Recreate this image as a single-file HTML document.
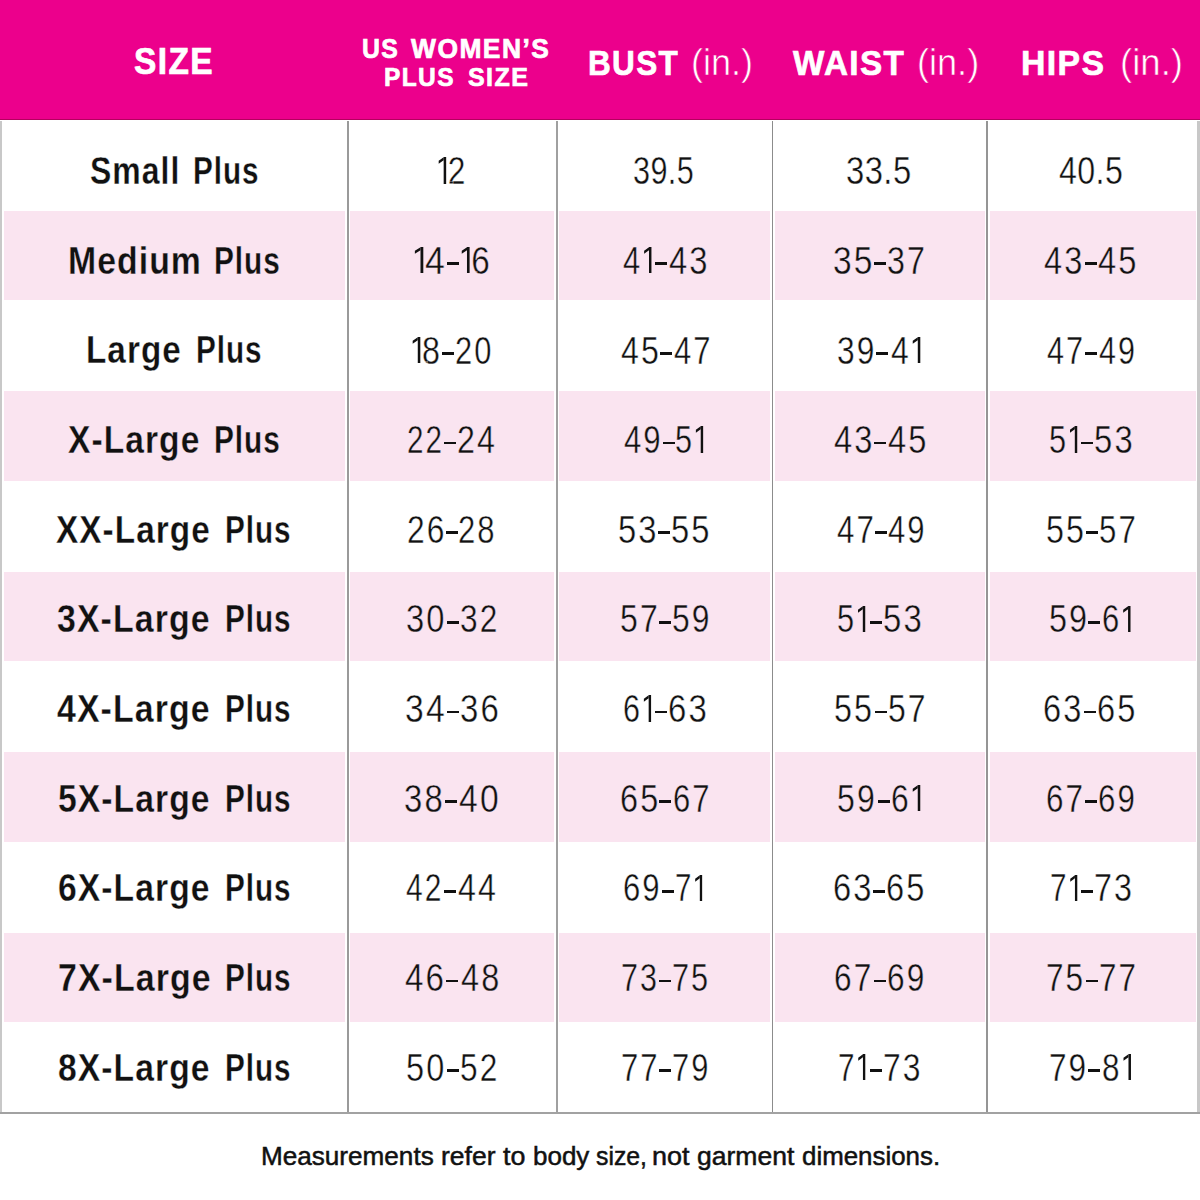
<!DOCTYPE html><html><head><meta charset="utf-8"><style>
html,body{margin:0;padding:0;}
body{width:1200px;height:1200px;position:relative;overflow:hidden;background:#fff;font-family:"Liberation Sans",sans-serif;}
.a{position:absolute;}
.t{position:absolute;white-space:nowrap;line-height:1;transform-origin:0 0;}
.hd{left:0;top:0;width:1200px;height:119px;background:#ec008c;}
.hl{left:0;top:119px;width:1200px;height:1px;background:#b4005e;}
.pk{left:4px;width:1192px;height:89.4px;background:#fae4f0;}
.vl{top:121px;height:991px;background:#fff;}
.vl i{position:absolute;top:0;bottom:0;background:#999;}
.br{background:#111;}
.one{display:inline-block;position:relative;color:transparent;width:0.34em;}
.one::before{content:"";position:absolute;right:0.04em;top:0.1347em;width:0.08em;height:0.696em;background:#111;}
.one::after{content:"";position:absolute;right:0.11em;top:0.1347em;width:0.17em;height:0.075em;background:#111;transform:skewY(-30deg);transform-origin:100% 0;}
.bl{left:0;top:1112px;width:1200px;height:2px;background:#a2a2a2;}
</style></head><body>
<div class="a hd"></div><div class="a hl"></div>
<div class="a pk" style="top:210.80px"></div>
<div class="a pk" style="top:391.30px"></div>
<div class="a pk" style="top:571.80px"></div>
<div class="a pk" style="top:752.30px"></div>
<div class="a pk" style="top:932.80px"></div>
<div class="a" style="left:0;top:121px;width:2px;height:991px;background:#c8c8c8"></div>
<div class="a vl" style="left:344.80px;width:5.20px"><i style="left:2.20px;width:1.70px;background:#9a9a9a"></i></div>
<div class="a vl" style="left:553.50px;width:5.50px"><i style="left:2.00px;width:2.00px;background:#a0a0a0"></i></div>
<div class="a vl" style="left:769.50px;width:5.50px"><i style="left:2.00px;width:1.70px;background:#8c8c8c"></i></div>
<div class="a vl" style="left:984.50px;width:5.50px"><i style="left:1.60px;width:2.00px;background:#959595"></i></div>
<div class="a vl" style="left:1195.70px;width:4.30px"><i style="left:1.80px;width:2.50px;background:#c8c8c8"></i></div>
<div class="a bl"></div>
<div class="a br" style="left:446.76px;top:262.45px;width:12.00px;height:2.60px"></div>
<div class="a br" style="left:655.45px;top:262.45px;width:12.00px;height:2.60px"></div>
<div class="a br" style="left:874.43px;top:262.45px;width:12.00px;height:2.60px"></div>
<div class="a br" style="left:1084.65px;top:262.45px;width:12.00px;height:2.60px"></div>
<div class="a br" style="left:442.10px;top:352.10px;width:12.00px;height:2.60px"></div>
<div class="a br" style="left:660.35px;top:352.10px;width:12.00px;height:2.60px"></div>
<div class="a br" style="left:876.29px;top:352.10px;width:12.00px;height:2.60px"></div>
<div class="a br" style="left:1085.39px;top:352.10px;width:12.00px;height:2.60px"></div>
<div class="a br" style="left:443.73px;top:441.75px;width:12.00px;height:2.60px"></div>
<div class="a br" style="left:662.78px;top:441.75px;width:12.00px;height:2.60px"></div>
<div class="a br" style="left:873.75px;top:441.75px;width:12.00px;height:2.60px"></div>
<div class="a br" style="left:1081.40px;top:441.75px;width:12.00px;height:2.60px"></div>
<div class="a br" style="left:445.56px;top:531.40px;width:12.00px;height:2.60px"></div>
<div class="a br" style="left:658.05px;top:531.40px;width:12.00px;height:2.60px"></div>
<div class="a br" style="left:874.64px;top:531.40px;width:12.00px;height:2.60px"></div>
<div class="a br" style="left:1086.36px;top:531.40px;width:12.00px;height:2.60px"></div>
<div class="a br" style="left:446.70px;top:621.05px;width:12.00px;height:2.60px"></div>
<div class="a br" style="left:658.65px;top:621.05px;width:12.00px;height:2.60px"></div>
<div class="a br" style="left:869.90px;top:621.05px;width:12.00px;height:2.60px"></div>
<div class="a br" style="left:1088.24px;top:621.05px;width:12.00px;height:2.60px"></div>
<div class="a br" style="left:446.79px;top:710.70px;width:12.00px;height:2.60px"></div>
<div class="a br" style="left:655.36px;top:710.70px;width:12.00px;height:2.60px"></div>
<div class="a br" style="left:875.02px;top:710.70px;width:12.00px;height:2.60px"></div>
<div class="a br" style="left:1084.20px;top:710.70px;width:12.00px;height:2.60px"></div>
<div class="a br" style="left:444.73px;top:800.35px;width:12.00px;height:2.60px"></div>
<div class="a br" style="left:659.46px;top:800.35px;width:12.00px;height:2.60px"></div>
<div class="a br" style="left:877.51px;top:800.35px;width:12.00px;height:2.60px"></div>
<div class="a br" style="left:1085.40px;top:800.35px;width:12.00px;height:2.60px"></div>
<div class="a br" style="left:444.16px;top:890.00px;width:12.00px;height:2.60px"></div>
<div class="a br" style="left:662.30px;top:890.00px;width:12.00px;height:2.60px"></div>
<div class="a br" style="left:873.30px;top:890.00px;width:12.00px;height:2.60px"></div>
<div class="a br" style="left:1081.08px;top:890.00px;width:12.00px;height:2.60px"></div>
<div class="a br" style="left:446.30px;top:979.65px;width:12.00px;height:2.60px"></div>
<div class="a br" style="left:658.65px;top:979.65px;width:12.00px;height:2.60px"></div>
<div class="a br" style="left:873.90px;top:979.65px;width:12.00px;height:2.60px"></div>
<div class="a br" style="left:1085.93px;top:979.65px;width:12.00px;height:2.60px"></div>
<div class="a br" style="left:446.75px;top:1069.30px;width:12.00px;height:2.60px"></div>
<div class="a br" style="left:659.10px;top:1069.30px;width:12.00px;height:2.60px"></div>
<div class="a br" style="left:869.92px;top:1069.30px;width:12.00px;height:2.60px"></div>
<div class="a br" style="left:1088.43px;top:1069.30px;width:12.00px;height:2.60px"></div>
<div class="t" id="t0" style="left:134.07px;top:44.46px;font-size:36.05px;font-weight:bold;color:#ffffff;transform:scaleX(0.9277);letter-spacing:1.5px;-webkit-text-stroke:0.7px #fff">SIZE</div>
<div class="t" id="t1" style="left:362.08px;top:35.96px;font-size:27.03px;font-weight:bold;color:#ffffff;transform:scaleX(0.9193);letter-spacing:1.5px;-webkit-text-stroke:0.7px #fff">US</div>
<div class="t" id="t2" style="left:411.49px;top:35.96px;font-size:27.03px;font-weight:bold;color:#ffffff;transform:scaleX(0.9774);letter-spacing:1.5px;-webkit-text-stroke:0.7px #fff">WOMEN’S</div>
<div class="t" id="t3" style="left:384.07px;top:63.66px;font-size:26.31px;font-weight:bold;color:#ffffff;transform:scaleX(0.9316);letter-spacing:1.5px;-webkit-text-stroke:0.7px #fff">PLUS</div>
<div class="t" id="t4" style="left:467.52px;top:63.66px;font-size:26.31px;font-weight:bold;color:#ffffff;transform:scaleX(0.9518);letter-spacing:1.5px;-webkit-text-stroke:0.7px #fff">SIZE</div>
<div class="t" id="t5" style="left:588.26px;top:45.66px;font-size:35.90px;font-weight:bold;color:#ffffff;transform:scaleX(0.8780);letter-spacing:1.5px;-webkit-text-stroke:0.7px #fff">BUST</div>
<div class="t er" id="t6" style="left:690.77px;top:43.57px;font-size:37.17px;font-weight:normal;color:#ffffff;transform:scaleX(0.9705);-webkit-text-stroke:0.60px #ec008c">(in.)</div>
<div class="t" id="t7" style="left:793.00px;top:45.66px;font-size:35.90px;font-weight:bold;color:#ffffff;transform:scaleX(0.9267);letter-spacing:1.5px;-webkit-text-stroke:0.7px #fff">WAIST</div>
<div class="t er" id="t8" style="left:917.09px;top:43.57px;font-size:37.17px;font-weight:normal;color:#ffffff;transform:scaleX(0.9712);-webkit-text-stroke:0.60px #ec008c">(in.)</div>
<div class="t" id="t9" style="left:1021.35px;top:45.66px;font-size:35.90px;font-weight:bold;color:#ffffff;transform:scaleX(0.9414);letter-spacing:1.5px;-webkit-text-stroke:0.7px #fff">HIPS</div>
<div class="t er" id="t10" style="left:1120.04px;top:43.57px;font-size:37.17px;font-weight:normal;color:#ffffff;transform:scaleX(0.9854);-webkit-text-stroke:0.60px #ec008c">(in.)</div>
<div class="t er" id="t11" style="left:90.19px;top:153.15px;font-size:37.94px;font-weight:bold;color:#111111;transform:scaleX(0.8431);letter-spacing:1.2px;-webkit-text-stroke:0.30px #ffffff">Small</div>
<div class="t er" id="t12" style="left:193.08px;top:153.15px;font-size:37.94px;font-weight:bold;color:#111111;transform:scaleX(0.7823);letter-spacing:1.2px;-webkit-text-stroke:0.30px #ffffff">Plus</div>
<div class="t er" id="t13" style="left:437.33px;top:152.21px;font-size:38.08px;font-weight:normal;color:#111111;transform:scaleX(0.8333);letter-spacing:2.5px;-webkit-text-stroke:0.40px #ffffff"><span class="one">1</span>2</div>
<div class="t er" id="t14" style="left:633.28px;top:152.21px;font-size:38.08px;font-weight:normal;color:#111111;transform:scaleX(0.8028);letter-spacing:0.5px;-webkit-text-stroke:0.40px #ffffff">39.5</div>
<div class="t er" id="t15" style="left:846.28px;top:152.21px;font-size:38.08px;font-weight:normal;color:#111111;transform:scaleX(0.8613);letter-spacing:0.5px;-webkit-text-stroke:0.40px #ffffff">33.5</div>
<div class="t er" id="t16" style="left:1059.25px;top:152.21px;font-size:38.08px;font-weight:normal;color:#111111;transform:scaleX(0.8446);letter-spacing:0.5px;-webkit-text-stroke:0.40px #ffffff">40.5</div>
<div class="t er" id="t17" style="left:67.78px;top:242.81px;font-size:37.94px;font-weight:bold;color:#111111;transform:scaleX(0.8903);letter-spacing:1.2px;-webkit-text-stroke:0.30px #fae4f0">Medium</div>
<div class="t er" id="t18" style="left:214.27px;top:242.81px;font-size:37.94px;font-weight:bold;color:#111111;transform:scaleX(0.7850);letter-spacing:1.2px;-webkit-text-stroke:0.30px #fae4f0">Plus</div>
<div class="t er" id="t19" style="left:413.12px;top:241.86px;font-size:38.08px;font-weight:normal;color:#111111;transform:scaleX(0.9369);letter-spacing:2.5px;-webkit-text-stroke:0.40px #fae4f0"><span class="one">1</span>4</div>
<div class="t er" id="t20" style="left:460.07px;top:241.86px;font-size:38.08px;font-weight:normal;color:#111111;transform:scaleX(0.8727);letter-spacing:2.5px;-webkit-text-stroke:0.40px #fae4f0"><span class="one">1</span>6</div>
<div class="t er" id="t21" style="left:622.62px;top:241.86px;font-size:38.08px;font-weight:normal;color:#111111;transform:scaleX(0.8126);letter-spacing:2.5px;-webkit-text-stroke:0.40px #fae4f0">4<span class="one">1</span></div>
<div class="t er" id="t22" style="left:669.47px;top:241.86px;font-size:38.08px;font-weight:normal;color:#111111;transform:scaleX(0.8589);letter-spacing:2.5px;-webkit-text-stroke:0.40px #fae4f0">43</div>
<div class="t er" id="t23" style="left:833.17px;top:241.86px;font-size:38.08px;font-weight:normal;color:#111111;transform:scaleX(0.8813);letter-spacing:2.5px;-webkit-text-stroke:0.40px #fae4f0">35</div>
<div class="t er" id="t24" style="left:887.38px;top:241.86px;font-size:38.08px;font-weight:normal;color:#111111;transform:scaleX(0.8460);letter-spacing:2.5px;-webkit-text-stroke:0.40px #fae4f0">37</div>
<div class="t er" id="t25" style="left:1044.23px;top:241.86px;font-size:38.08px;font-weight:normal;color:#111111;transform:scaleX(0.8546);letter-spacing:2.5px;-webkit-text-stroke:0.40px #fae4f0">43</div>
<div class="t er" id="t26" style="left:1098.45px;top:241.86px;font-size:38.08px;font-weight:normal;color:#111111;transform:scaleX(0.8574);letter-spacing:2.5px;-webkit-text-stroke:0.40px #fae4f0">45</div>
<div class="t er" id="t27" style="left:86.35px;top:332.46px;font-size:37.94px;font-weight:bold;color:#111111;transform:scaleX(0.8770);letter-spacing:1.2px;-webkit-text-stroke:0.30px #ffffff">Large</div>
<div class="t er" id="t28" style="left:196.08px;top:332.46px;font-size:37.94px;font-weight:bold;color:#111111;transform:scaleX(0.7823);letter-spacing:1.2px;-webkit-text-stroke:0.30px #ffffff">Plus</div>
<div class="t er" id="t29" style="left:411.31px;top:331.51px;font-size:38.08px;font-weight:normal;color:#111111;transform:scaleX(0.8472);letter-spacing:2.5px;-webkit-text-stroke:0.40px #ffffff"><span class="one">1</span>8</div>
<div class="t er" id="t30" style="left:454.87px;top:331.51px;font-size:38.08px;font-weight:normal;color:#111111;transform:scaleX(0.8101);letter-spacing:2.5px;-webkit-text-stroke:0.40px #ffffff">20</div>
<div class="t er" id="t31" style="left:620.74px;top:331.51px;font-size:38.08px;font-weight:normal;color:#111111;transform:scaleX(0.8429);letter-spacing:2.5px;-webkit-text-stroke:0.40px #ffffff">45</div>
<div class="t er" id="t32" style="left:673.87px;top:331.51px;font-size:38.08px;font-weight:normal;color:#111111;transform:scaleX(0.8143);letter-spacing:2.5px;-webkit-text-stroke:0.40px #ffffff">47</div>
<div class="t er" id="t33" style="left:837.33px;top:331.51px;font-size:38.08px;font-weight:normal;color:#111111;transform:scaleX(0.8331);letter-spacing:2.5px;-webkit-text-stroke:0.40px #ffffff">39</div>
<div class="t er" id="t34" style="left:890.54px;top:331.51px;font-size:38.08px;font-weight:normal;color:#111111;transform:scaleX(0.8371);letter-spacing:2.5px;-webkit-text-stroke:0.40px #ffffff">4<span class="one">1</span></div>
<div class="t er" id="t35" style="left:1047.30px;top:331.51px;font-size:38.08px;font-weight:normal;color:#111111;transform:scaleX(0.8045);letter-spacing:2.5px;-webkit-text-stroke:0.40px #ffffff">47</div>
<div class="t er" id="t36" style="left:1099.26px;top:331.51px;font-size:38.08px;font-weight:normal;color:#111111;transform:scaleX(0.8011);letter-spacing:2.5px;-webkit-text-stroke:0.40px #ffffff">49</div>
<div class="t er" id="t37" style="left:67.89px;top:422.10px;font-size:37.94px;font-weight:bold;color:#111111;transform:scaleX(0.8850);letter-spacing:1.2px;-webkit-text-stroke:0.30px #fae4f0">X-Large</div>
<div class="t er" id="t38" style="left:214.27px;top:422.10px;font-size:37.94px;font-weight:bold;color:#111111;transform:scaleX(0.7850);letter-spacing:1.2px;-webkit-text-stroke:0.30px #fae4f0">Plus</div>
<div class="t er" id="t39" style="left:407.45px;top:421.16px;font-size:38.08px;font-weight:normal;color:#111111;transform:scaleX(0.7787);letter-spacing:2.5px;-webkit-text-stroke:0.40px #fae4f0">22</div>
<div class="t er" id="t40" style="left:456.99px;top:421.16px;font-size:38.08px;font-weight:normal;color:#111111;transform:scaleX(0.8462);letter-spacing:2.5px;-webkit-text-stroke:0.40px #fae4f0">24</div>
<div class="t er" id="t41" style="left:624.28px;top:421.16px;font-size:38.08px;font-weight:normal;color:#111111;transform:scaleX(0.8172);letter-spacing:2.5px;-webkit-text-stroke:0.40px #fae4f0">49</div>
<div class="t er" id="t42" style="left:675.31px;top:421.16px;font-size:38.08px;font-weight:normal;color:#111111;transform:scaleX(0.8040);letter-spacing:2.5px;-webkit-text-stroke:0.40px #fae4f0">5<span class="one">1</span></div>
<div class="t er" id="t43" style="left:833.71px;top:421.16px;font-size:38.08px;font-weight:normal;color:#111111;transform:scaleX(0.8574);letter-spacing:2.5px;-webkit-text-stroke:0.40px #fae4f0">43</div>
<div class="t er" id="t44" style="left:887.95px;top:421.16px;font-size:38.08px;font-weight:normal;color:#111111;transform:scaleX(0.8574);letter-spacing:2.5px;-webkit-text-stroke:0.40px #fae4f0">45</div>
<div class="t er" id="t45" style="left:1048.96px;top:421.16px;font-size:38.08px;font-weight:normal;color:#111111;transform:scaleX(0.8065);letter-spacing:2.5px;-webkit-text-stroke:0.40px #fae4f0">5<span class="one">1</span></div>
<div class="t er" id="t46" style="left:1094.35px;top:421.16px;font-size:38.08px;font-weight:normal;color:#111111;transform:scaleX(0.8606);letter-spacing:2.5px;-webkit-text-stroke:0.40px #fae4f0">53</div>
<div class="t er" id="t47" style="left:56.12px;top:511.75px;font-size:37.94px;font-weight:bold;color:#111111;transform:scaleX(0.8790);letter-spacing:1.2px;-webkit-text-stroke:0.30px #ffffff">XX-Large</div>
<div class="t er" id="t48" style="left:224.68px;top:511.75px;font-size:37.94px;font-weight:bold;color:#111111;transform:scaleX(0.7823);letter-spacing:1.2px;-webkit-text-stroke:0.30px #ffffff">Plus</div>
<div class="t er" id="t49" style="left:406.92px;top:510.81px;font-size:38.08px;font-weight:normal;color:#111111;transform:scaleX(0.8351);letter-spacing:2.5px;-webkit-text-stroke:0.40px #ffffff">26</div>
<div class="t er" id="t50" style="left:458.22px;top:510.81px;font-size:38.08px;font-weight:normal;color:#111111;transform:scaleX(0.8144);letter-spacing:2.5px;-webkit-text-stroke:0.40px #ffffff">28</div>
<div class="t er" id="t51" style="left:618.27px;top:510.81px;font-size:38.08px;font-weight:normal;color:#111111;transform:scaleX(0.8590);letter-spacing:2.5px;-webkit-text-stroke:0.40px #ffffff">53</div>
<div class="t er" id="t52" style="left:670.51px;top:510.81px;font-size:38.08px;font-weight:normal;color:#111111;transform:scaleX(0.8590);letter-spacing:2.5px;-webkit-text-stroke:0.40px #ffffff">55</div>
<div class="t er" id="t53" style="left:836.78px;top:510.81px;font-size:38.08px;font-weight:normal;color:#111111;transform:scaleX(0.8191);letter-spacing:2.5px;-webkit-text-stroke:0.40px #ffffff">47</div>
<div class="t er" id="t54" style="left:888.47px;top:510.81px;font-size:38.08px;font-weight:normal;color:#111111;transform:scaleX(0.8155);letter-spacing:2.5px;-webkit-text-stroke:0.40px #ffffff">49</div>
<div class="t er" id="t55" style="left:1046.39px;top:510.81px;font-size:38.08px;font-weight:normal;color:#111111;transform:scaleX(0.8463);letter-spacing:2.5px;-webkit-text-stroke:0.40px #ffffff">55</div>
<div class="t er" id="t56" style="left:1099.08px;top:510.81px;font-size:38.08px;font-weight:normal;color:#111111;transform:scaleX(0.8188);letter-spacing:2.5px;-webkit-text-stroke:0.40px #ffffff">57</div>
<div class="t er" id="t57" style="left:57.11px;top:601.40px;font-size:37.94px;font-weight:bold;color:#111111;transform:scaleX(0.8940);letter-spacing:1.2px;-webkit-text-stroke:0.30px #fae4f0">3X-Large</div>
<div class="t er" id="t58" style="left:224.68px;top:601.40px;font-size:37.94px;font-weight:bold;color:#111111;transform:scaleX(0.7823);letter-spacing:1.2px;-webkit-text-stroke:0.30px #fae4f0">Plus</div>
<div class="t er" id="t59" style="left:405.79px;top:600.46px;font-size:38.08px;font-weight:normal;color:#111111;transform:scaleX(0.8588);letter-spacing:2.5px;-webkit-text-stroke:0.40px #fae4f0">30</div>
<div class="t er" id="t60" style="left:459.90px;top:600.46px;font-size:38.08px;font-weight:normal;color:#111111;transform:scaleX(0.8303);letter-spacing:2.5px;-webkit-text-stroke:0.40px #fae4f0">32</div>
<div class="t er" id="t61" style="left:619.91px;top:600.46px;font-size:38.08px;font-weight:normal;color:#111111;transform:scaleX(0.8401);letter-spacing:2.5px;-webkit-text-stroke:0.40px #fae4f0">57</div>
<div class="t er" id="t62" style="left:671.64px;top:600.46px;font-size:38.08px;font-weight:normal;color:#111111;transform:scaleX(0.8354);letter-spacing:2.5px;-webkit-text-stroke:0.40px #fae4f0">59</div>
<div class="t er" id="t63" style="left:837.40px;top:600.46px;font-size:38.08px;font-weight:normal;color:#111111;transform:scaleX(0.8065);letter-spacing:2.5px;-webkit-text-stroke:0.40px #fae4f0">5<span class="one">1</span></div>
<div class="t er" id="t64" style="left:882.77px;top:600.46px;font-size:38.08px;font-weight:normal;color:#111111;transform:scaleX(0.8636);letter-spacing:2.5px;-webkit-text-stroke:0.40px #fae4f0">53</div>
<div class="t er" id="t65" style="left:1048.88px;top:600.46px;font-size:38.08px;font-weight:normal;color:#111111;transform:scaleX(0.8492);letter-spacing:2.5px;-webkit-text-stroke:0.40px #fae4f0">59</div>
<div class="t er" id="t66" style="left:1101.70px;top:600.46px;font-size:38.08px;font-weight:normal;color:#111111;transform:scaleX(0.8143);letter-spacing:2.5px;-webkit-text-stroke:0.40px #fae4f0">6<span class="one">1</span></div>
<div class="t er" id="t67" style="left:57.11px;top:691.06px;font-size:37.94px;font-weight:bold;color:#111111;transform:scaleX(0.8940);letter-spacing:1.2px;-webkit-text-stroke:0.30px #ffffff">4X-Large</div>
<div class="t er" id="t68" style="left:224.68px;top:691.06px;font-size:37.94px;font-weight:bold;color:#111111;transform:scaleX(0.7823);letter-spacing:1.2px;-webkit-text-stroke:0.30px #ffffff">Plus</div>
<div class="t er" id="t69" style="left:405.24px;top:690.11px;font-size:38.08px;font-weight:normal;color:#111111;transform:scaleX(0.8850);letter-spacing:2.5px;-webkit-text-stroke:0.40px #ffffff">34</div>
<div class="t er" id="t70" style="left:460.25px;top:690.11px;font-size:38.08px;font-weight:normal;color:#111111;transform:scaleX(0.8651);letter-spacing:2.5px;-webkit-text-stroke:0.40px #ffffff">36</div>
<div class="t er" id="t71" style="left:622.97px;top:690.11px;font-size:38.08px;font-weight:normal;color:#111111;transform:scaleX(0.8022);letter-spacing:2.5px;-webkit-text-stroke:0.40px #ffffff">6<span class="one">1</span></div>
<div class="t er" id="t72" style="left:668.18px;top:690.11px;font-size:38.08px;font-weight:normal;color:#111111;transform:scaleX(0.8639);letter-spacing:2.5px;-webkit-text-stroke:0.40px #ffffff">63</div>
<div class="t er" id="t73" style="left:834.39px;top:690.11px;font-size:38.08px;font-weight:normal;color:#111111;transform:scaleX(0.8464);letter-spacing:2.5px;-webkit-text-stroke:0.40px #ffffff">55</div>
<div class="t er" id="t74" style="left:888.41px;top:690.11px;font-size:38.08px;font-weight:normal;color:#111111;transform:scaleX(0.8379);letter-spacing:2.5px;-webkit-text-stroke:0.40px #ffffff">57</div>
<div class="t er" id="t75" style="left:1043.37px;top:690.11px;font-size:38.08px;font-weight:normal;color:#111111;transform:scaleX(0.8557);letter-spacing:2.5px;-webkit-text-stroke:0.40px #ffffff">63</div>
<div class="t er" id="t76" style="left:1097.39px;top:690.11px;font-size:38.08px;font-weight:normal;color:#111111;transform:scaleX(0.8557);letter-spacing:2.5px;-webkit-text-stroke:0.40px #ffffff">65</div>
<div class="t er" id="t77" style="left:57.89px;top:780.71px;font-size:37.94px;font-weight:bold;color:#111111;transform:scaleX(0.8881);letter-spacing:1.2px;-webkit-text-stroke:0.30px #fae4f0">5X-Large</div>
<div class="t er" id="t78" style="left:224.68px;top:780.71px;font-size:37.94px;font-weight:bold;color:#111111;transform:scaleX(0.7823);letter-spacing:1.2px;-webkit-text-stroke:0.30px #fae4f0">Plus</div>
<div class="t er" id="t79" style="left:404.21px;top:779.76px;font-size:38.08px;font-weight:normal;color:#111111;transform:scaleX(0.8621);letter-spacing:2.5px;-webkit-text-stroke:0.40px #fae4f0">38</div>
<div class="t er" id="t80" style="left:458.81px;top:779.76px;font-size:38.08px;font-weight:normal;color:#111111;transform:scaleX(0.8828);letter-spacing:2.5px;-webkit-text-stroke:0.40px #fae4f0">40</div>
<div class="t er" id="t81" style="left:619.89px;top:779.76px;font-size:38.08px;font-weight:normal;color:#111111;transform:scaleX(0.8504);letter-spacing:2.5px;-webkit-text-stroke:0.40px #fae4f0">65</div>
<div class="t er" id="t82" style="left:672.80px;top:779.76px;font-size:38.08px;font-weight:normal;color:#111111;transform:scaleX(0.8140);letter-spacing:2.5px;-webkit-text-stroke:0.40px #fae4f0">67</div>
<div class="t er" id="t83" style="left:837.40px;top:779.76px;font-size:38.08px;font-weight:normal;color:#111111;transform:scaleX(0.8412);letter-spacing:2.5px;-webkit-text-stroke:0.40px #fae4f0">59</div>
<div class="t er" id="t84" style="left:890.97px;top:779.76px;font-size:38.08px;font-weight:normal;color:#111111;transform:scaleX(0.8361);letter-spacing:2.5px;-webkit-text-stroke:0.40px #fae4f0">6<span class="one">1</span></div>
<div class="t er" id="t85" style="left:1046.44px;top:779.76px;font-size:38.08px;font-weight:normal;color:#111111;transform:scaleX(0.8254);letter-spacing:2.5px;-webkit-text-stroke:0.40px #fae4f0">67</div>
<div class="t er" id="t86" style="left:1098.45px;top:779.76px;font-size:38.08px;font-weight:normal;color:#111111;transform:scaleX(0.8204);letter-spacing:2.5px;-webkit-text-stroke:0.40px #fae4f0">69</div>
<div class="t er" id="t87" style="left:57.89px;top:870.35px;font-size:37.94px;font-weight:bold;color:#111111;transform:scaleX(0.8881);letter-spacing:1.2px;-webkit-text-stroke:0.30px #ffffff">6X-Large</div>
<div class="t er" id="t88" style="left:224.68px;top:870.35px;font-size:37.94px;font-weight:bold;color:#111111;transform:scaleX(0.7823);letter-spacing:1.2px;-webkit-text-stroke:0.30px #ffffff">Plus</div>
<div class="t er" id="t89" style="left:406.31px;top:869.41px;font-size:38.08px;font-weight:normal;color:#111111;transform:scaleX(0.7867);letter-spacing:2.5px;-webkit-text-stroke:0.40px #ffffff">42</div>
<div class="t er" id="t90" style="left:457.93px;top:869.41px;font-size:38.08px;font-weight:normal;color:#111111;transform:scaleX(0.8459);letter-spacing:2.5px;-webkit-text-stroke:0.40px #ffffff">44</div>
<div class="t er" id="t91" style="left:623.46px;top:869.41px;font-size:38.08px;font-weight:normal;color:#111111;transform:scaleX(0.8155);letter-spacing:2.5px;-webkit-text-stroke:0.40px #ffffff">69</div>
<div class="t er" id="t92" style="left:675.09px;top:869.41px;font-size:38.08px;font-weight:normal;color:#111111;transform:scaleX(0.7756);letter-spacing:2.5px;-webkit-text-stroke:0.40px #ffffff">7<span class="one">1</span></div>
<div class="t er" id="t93" style="left:832.85px;top:869.41px;font-size:38.08px;font-weight:normal;color:#111111;transform:scaleX(0.8588);letter-spacing:2.5px;-webkit-text-stroke:0.40px #ffffff">63</div>
<div class="t er" id="t94" style="left:885.90px;top:869.41px;font-size:38.08px;font-weight:normal;color:#111111;transform:scaleX(0.8557);letter-spacing:2.5px;-webkit-text-stroke:0.40px #ffffff">65</div>
<div class="t er" id="t95" style="left:1049.58px;top:869.41px;font-size:38.08px;font-weight:normal;color:#111111;transform:scaleX(0.7795);letter-spacing:2.5px;-webkit-text-stroke:0.40px #ffffff">7<span class="one">1</span></div>
<div class="t er" id="t96" style="left:1093.69px;top:869.41px;font-size:38.08px;font-weight:normal;color:#111111;transform:scaleX(0.8472);letter-spacing:2.5px;-webkit-text-stroke:0.40px #ffffff">73</div>
<div class="t er" id="t97" style="left:57.65px;top:960.00px;font-size:37.94px;font-weight:bold;color:#111111;transform:scaleX(0.8941);letter-spacing:1.2px;-webkit-text-stroke:0.30px #fae4f0">7X-Large</div>
<div class="t er" id="t98" style="left:224.68px;top:960.00px;font-size:37.94px;font-weight:bold;color:#111111;transform:scaleX(0.7823);letter-spacing:1.2px;-webkit-text-stroke:0.30px #fae4f0">Plus</div>
<div class="t er" id="t99" style="left:405.20px;top:959.06px;font-size:38.08px;font-weight:normal;color:#111111;transform:scaleX(0.8687);letter-spacing:2.5px;-webkit-text-stroke:0.40px #fae4f0">46</div>
<div class="t er" id="t100" style="left:460.59px;top:959.06px;font-size:38.08px;font-weight:normal;color:#111111;transform:scaleX(0.8527);letter-spacing:2.5px;-webkit-text-stroke:0.40px #fae4f0">48</div>
<div class="t er" id="t101" style="left:620.51px;top:959.06px;font-size:38.08px;font-weight:normal;color:#111111;transform:scaleX(0.8002);letter-spacing:2.5px;-webkit-text-stroke:0.40px #fae4f0">73</div>
<div class="t er" id="t102" style="left:671.69px;top:959.06px;font-size:38.08px;font-weight:normal;color:#111111;transform:scaleX(0.8052);letter-spacing:2.5px;-webkit-text-stroke:0.40px #fae4f0">75</div>
<div class="t er" id="t103" style="left:834.40px;top:959.06px;font-size:38.08px;font-weight:normal;color:#111111;transform:scaleX(0.8302);letter-spacing:2.5px;-webkit-text-stroke:0.40px #fae4f0">67</div>
<div class="t er" id="t104" style="left:886.85px;top:959.06px;font-size:38.08px;font-weight:normal;color:#111111;transform:scaleX(0.8297);letter-spacing:2.5px;-webkit-text-stroke:0.40px #fae4f0">69</div>
<div class="t er" id="t105" style="left:1046.44px;top:959.06px;font-size:38.08px;font-weight:normal;color:#111111;transform:scaleX(0.8282);letter-spacing:2.5px;-webkit-text-stroke:0.40px #fae4f0">75</div>
<div class="t er" id="t106" style="left:1098.99px;top:959.06px;font-size:38.08px;font-weight:normal;color:#111111;transform:scaleX(0.8226);letter-spacing:2.5px;-webkit-text-stroke:0.40px #fae4f0">77</div>
<div class="t er" id="t107" style="left:57.89px;top:1049.65px;font-size:37.94px;font-weight:bold;color:#111111;transform:scaleX(0.8881);letter-spacing:1.2px;-webkit-text-stroke:0.30px #ffffff">8X-Large</div>
<div class="t er" id="t108" style="left:224.68px;top:1049.65px;font-size:37.94px;font-weight:bold;color:#111111;transform:scaleX(0.7823);letter-spacing:1.2px;-webkit-text-stroke:0.30px #ffffff">Plus</div>
<div class="t er" id="t109" style="left:406.30px;top:1048.71px;font-size:38.08px;font-weight:normal;color:#111111;transform:scaleX(0.8537);letter-spacing:2.5px;-webkit-text-stroke:0.40px #ffffff">50</div>
<div class="t er" id="t110" style="left:460.12px;top:1048.71px;font-size:38.08px;font-weight:normal;color:#111111;transform:scaleX(0.8297);letter-spacing:2.5px;-webkit-text-stroke:0.40px #ffffff">52</div>
<div class="t er" id="t111" style="left:621.37px;top:1048.71px;font-size:38.08px;font-weight:normal;color:#111111;transform:scaleX(0.8152);letter-spacing:2.5px;-webkit-text-stroke:0.40px #ffffff">77</div>
<div class="t er" id="t112" style="left:671.84px;top:1048.71px;font-size:38.08px;font-weight:normal;color:#111111;transform:scaleX(0.8102);letter-spacing:2.5px;-webkit-text-stroke:0.40px #ffffff">79</div>
<div class="t er" id="t113" style="left:838.04px;top:1048.71px;font-size:38.08px;font-weight:normal;color:#111111;transform:scaleX(0.7794);letter-spacing:2.5px;-webkit-text-stroke:0.40px #ffffff">7<span class="one">1</span></div>
<div class="t er" id="t114" style="left:882.95px;top:1048.71px;font-size:38.08px;font-weight:normal;color:#111111;transform:scaleX(0.8372);letter-spacing:2.5px;-webkit-text-stroke:0.40px #ffffff">73</div>
<div class="t er" id="t115" style="left:1049.43px;top:1048.71px;font-size:38.08px;font-weight:normal;color:#111111;transform:scaleX(0.8280);letter-spacing:2.5px;-webkit-text-stroke:0.40px #ffffff">79</div>
<div class="t er" id="t116" style="left:1101.60px;top:1048.71px;font-size:38.08px;font-weight:normal;color:#111111;transform:scaleX(0.8277);letter-spacing:2.5px;-webkit-text-stroke:0.40px #ffffff">8<span class="one">1</span></div>
<div class="t" id="t117" style="left:260.96px;top:1143.56px;font-size:25.50px;font-weight:normal;color:#111111;transform:scaleX(1.0240);-webkit-text-stroke:0.5px #111">Measurements</div>
<div class="t" id="t118" style="left:440.96px;top:1143.56px;font-size:25.50px;font-weight:normal;color:#111111;transform:scaleX(1.0392);-webkit-text-stroke:0.5px #111">refer</div>
<div class="t" id="t119" style="left:503.00px;top:1143.56px;font-size:25.50px;font-weight:normal;color:#111111;transform:scaleX(1.0522);-webkit-text-stroke:0.5px #111">to</div>
<div class="t" id="t120" style="left:532.98px;top:1143.56px;font-size:25.50px;font-weight:normal;color:#111111;transform:scaleX(1.0185);-webkit-text-stroke:0.5px #111">body</div>
<div class="t" id="t121" style="left:596.00px;top:1143.56px;font-size:25.50px;font-weight:normal;color:#111111;transform:scaleX(0.9721);-webkit-text-stroke:0.5px #111">size,</div>
<div class="t" id="t122" style="left:651.91px;top:1143.56px;font-size:25.50px;font-weight:normal;color:#111111;transform:scaleX(1.0580);-webkit-text-stroke:0.5px #111">not</div>
<div class="t" id="t123" style="left:696.95px;top:1143.56px;font-size:25.50px;font-weight:normal;color:#111111;transform:scaleX(1.0410);-webkit-text-stroke:0.5px #111">garment</div>
<div class="t" id="t124" style="left:801.98px;top:1143.56px;font-size:25.50px;font-weight:normal;color:#111111;transform:scaleX(1.0150);-webkit-text-stroke:0.5px #111">dimensions.</div>
</body></html>
